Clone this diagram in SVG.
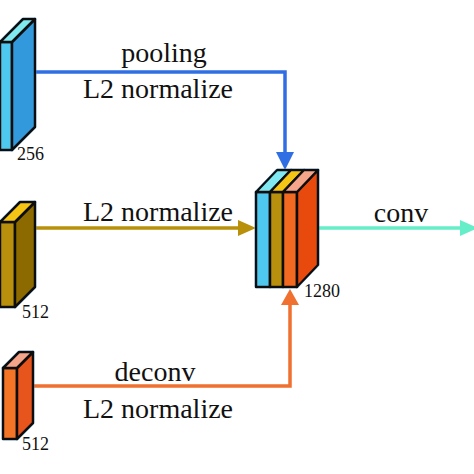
<svg xmlns="http://www.w3.org/2000/svg" width="474" height="474" viewBox="0 0 474 474">
<style>
.blk{stroke:#111;stroke-width:2.5;stroke-linejoin:round}
.lbl{font-family:"Liberation Serif","Times New Roman",serif;font-size:28px;fill:#111}
.num{font-family:"Liberation Serif","Times New Roman",serif;font-size:18px;fill:#111}
.ln{fill:none;stroke-width:3.5}
</style>
<defs>
<filter id="glow" x="-50%" y="-20%" width="200%" height="140%">
<feGaussianBlur in="SourceAlpha" stdDeviation="3"/>
<feOffset dx="2" dy="2"/>
<feComponentTransfer><feFuncA type="linear" slope="0.3"/></feComponentTransfer>
<feFlood flood-color="#6fb4f0"/>
<feComposite operator="in" in2="SourceGraphic"/>
<feMerge><feMergeNode/><feMergeNode in="SourceGraphic"/></feMerge>
</filter>
</defs>
<rect width="474" height="474" fill="#fff"/>
<g id="connectors">
<path class="ln" d="M35,72 H285 V153" stroke="#2f6fe3"/>
<polygon points="276,152 294,152 285,170" fill="#2f6fe3"/>
<path class="ln" d="M35,228 H240" stroke="#b8900a"/>
<polygon points="238,220 238,236 256,228" fill="#b8900a"/>
<path class="ln" d="M33,386 H290 V304" stroke="#f07030"/>
<polygon points="281,305 299,305 290,289" fill="#f07030"/>
<path class="ln" d="M318,228 H462" stroke="#66eec8"/>
<polygon points="460,220 460,236 478,228" fill="#66eec8"/>
</g>
<g id="labels">
<text class="lbl" x="164" y="62" text-anchor="middle">pooling</text>
<text class="lbl" x="158" y="98" text-anchor="middle">L2 normalize</text>
<text class="lbl" x="158" y="221" text-anchor="middle">L2 normalize</text>
<text class="lbl" x="155" y="381" text-anchor="middle">deconv</text>
<text class="lbl" x="158" y="418" text-anchor="middle">L2 normalize</text>
<text class="lbl" x="401" y="222" text-anchor="middle">conv</text>
</g>
<g id="block256">
<g filter="url(#glow)">
<rect class="blk" x="0" y="42" width="12" height="108" fill="#4fc8f0"/>
<polygon class="blk" points="12,42 35,19 35,127 12,150" fill="#3399dd"/>
<polygon class="blk" points="0,42 23,19 35,19 12,42" fill="#7fe8f0"/>
</g>
<text class="num" x="17" y="160">256</text>
</g>
<g id="block512a">
<g filter="url(#glow)">
<rect class="blk" x="0" y="222" width="15" height="85" fill="#b8900a"/>
<polygon class="blk" points="15,222 35,202 35,287 15,307" fill="#8c6b00"/>
<polygon class="blk" points="0,222 20,202 35,202 15,222" fill="#f5c518"/>
</g>
<text class="num" x="22" y="318">512</text>
</g>
<g id="block512b">
<g filter="url(#glow)">
<rect class="blk" x="3" y="368" width="14" height="71" fill="#f47428"/>
<polygon class="blk" points="17,368 33,352 33,423 17,439" fill="#e8541a"/>
<polygon class="blk" points="3,368 19,352 33,352 17,368" fill="#f5a58a"/>
</g>
<text class="num" x="22" y="450">512</text>
</g>
<g id="block1280">
<g filter="url(#glow)">
<rect class="blk" x="256" y="192" width="14" height="95" fill="#4fc8f0"/>
<rect class="blk" x="270" y="192" width="13" height="95" fill="#b8900a"/>
<rect class="blk" x="283" y="192" width="14" height="95" fill="#f26a22"/>
<polygon class="blk" points="297,192 318,170 318,265 297,287" fill="#e84a10"/>
<polygon class="blk" points="256,192 277,170 291,170 270,192" fill="#7fe8f0"/>
<polygon class="blk" points="270,192 291,170 304,170 283,192" fill="#f5c518"/>
<polygon class="blk" points="283,192 304,170 318,170 297,192" fill="#f5a58a"/>
</g>
<text class="num" x="304" y="297">1280</text>
</g>
</svg>
